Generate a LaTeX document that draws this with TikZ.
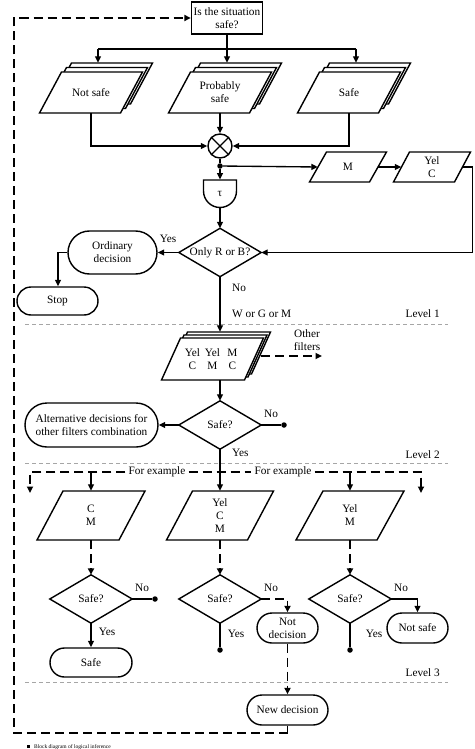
\documentclass[tikz,border=0pt]{standalone}
\usepackage{fontspec}
\setmainfont{Liberation Serif}
\usetikzlibrary{arrows.meta,shapes.misc,shapes.geometric}
\newcommand\pshape[5]{%
 \draw[line width=1.4pt, fill=white] ({#1-#3/2-#5/2},{#2+#4/2}) -- ({#1+#3/2-#5/2},{#2+#4/2}) -- ({#1+#3/2+#5/2},{#2-#4/2}) -- ({#1-#3/2+#5/2},{#2-#4/2}) -- cycle;}
\newcommand\pgr[7]{\pshape{#2}{#3}{#4}{#5}{#6}\node[minimum width=#4pt,minimum height=#5pt] (#1) at (#2,#3) {#7};}
\newcommand\stk[9]{%
 \pshape{#2+2*#7}{#3-2*#8}{#4}{#5}{#6}%
 \node[minimum width=#4pt,minimum height=#5pt] (#1b) at ({#2+2*#7},{#3-2*#8}) {};%
 \pshape{#2+#7}{#3-#8}{#4}{#5}{#6}%
 \pgr{#1}{#2}{#3}{#4}{#5}{#6}{#9}}
\newcommand\dia[4]{\node[minimum width=82pt, minimum height=48pt] (#1) at (#2,#3) {#4};
 \draw[line width=1.4pt] (#1.north) -- (#1.east) -- (#1.south) -- (#1.west) -- cycle;}
\begin{document}
\begin{tikzpicture}[x=1pt,y=-1pt,
  every node/.style={font=\fontsize{11.3}{13}\selectfont, inner sep=0pt, align=center},
  ln/.style={line width=1.35pt},
  arr/.style={ln,-{Triangle[length=6.5pt,width=6pt]}},
  dsh/.style={line width=1.6pt, dash pattern=on 9pt off 5pt},
  darr/.style={dsh,-{Triangle[length=6.5pt,width=6pt]}},
  lvl/.style={gray!70, line width=0.8pt, dash pattern=on 4pt off 3pt},
  stad/.style={draw, line width=1.4pt, rounded rectangle},
  dot/.style={circle, fill, minimum size=5.5pt}]
\useasboundingbox (0,0) rectangle (474,749);

% top box
\node[draw, line width=1.4pt, minimum width=71pt, minimum height=32pt] (q) at (227,18) {Is the situation\\safe?};

% stacks
\stk{ns}{91}{92.5}{81}{41}{22}{5}{4.5}{Not safe}
\stk{ps}{220}{92.5}{81}{41}{22}{5}{4.5}{Probably\\safe}
\stk{sf}{349}{92.5}{81}{41}{22}{5}{4.5}{Safe}

\coordinate (h1) at (98,49);
\coordinate (h3) at (356,49);
\draw[ln] (q.south) -- (q.south |- h1);
\draw[ln] (h1) -- (h3);
\draw[arr] (h1) -- (h1 |- nsb.north);
\draw[arr] (q.south |- h1) -- (q.south |- psb.north);
\draw[arr] (h3) -- (h3 |- sfb.north);

% multiplier
\node[circle, draw, line width=1.4pt, minimum size=24pt] (mx) at (220,146) {};
\draw[ln] (mx.north west) -- (mx.south east) (mx.north east) -- (mx.south west);
\draw[arr] (ns.south) |- (mx.west);
\draw[arr] (ps.south) -- (mx.north);
\draw[arr] (sf.south) |- (mx.east);

\node[dot] (d1) at (220,166) {};
\draw[ln] (mx.south) -- (d1);

% tau
\draw[line width=1.4pt] (203.5,180) -- (236.5,180) -- (236.5,191) .. controls (236.5,200.1) and (229.1,207.5) .. (220,207.5) .. controls (210.9,207.5) and (203.5,200.1) .. (203.5,191) -- cycle;
\node[minimum width=33pt, minimum height=27.5pt] (tau) at (220,193.5) {τ};
\draw[arr] (d1) -- (tau.north);

% M and Yel C
\pgr{m}{348}{167}{60}{30}{17}{M}
\pgr{yc}{432}{167}{61}{30}{16}{Yel\\C}
\draw[arr] (d1) -- (m.west);
\draw[arr] (m.east) -- (yc.west);

% Only R or B
\dia{only}{220}{252.5}{Only R or B?}
\coordinate (rc) at (472.8,167);
\draw[arr] (yc.east) -- (rc) |- (only.east);
\draw[arr] (tau.south) -- (only.north);

\node[stad, minimum width=89pt, minimum height=43pt] (ord) at (112.5,252.5) {Ordinary\\decision};
\draw[arr] (only.west) -- (ord.east);
\node at (168,239) {Yes};
\node[stad, minimum width=81pt, minimum height=28pt] (stop) at (57.5,301) {Stop};
\coordinate (oc) at (58,252.5);
\draw[arr] (ord.west) -- (oc) -- (oc |- stop.north);

\node[anchor=west] at (232,288) {No};
\node[anchor=west] at (232,314) {W or G or M};
\draw[lvl] (25,324) -- (448,324);
\node[anchor=east] at (440,314) {Level 1};

% filters stack
\stk{yy}{212.5}{359}{83}{42}{19}{3.5}{3}{\makebox[20pt]{Yel}\makebox[20pt]{Yel}\makebox[20pt]{M}\\\makebox[20pt]{C}\makebox[20pt]{M}\makebox[20pt]{C}}
\draw[arr] (only.south) -- (only.south |- yyb.north);
\coordinate (of) at (322,356);
\draw[darr] ([yshift=-3pt]yyb.east) -- (of);
\node at (307,340.5) {Other\\filters};

% Safe? level 2
\dia{s1}{220}{425}{Safe?}
\draw[arr] (s1.north |- yy.south) -- (s1.north);
\node[stad, minimum width=133pt, minimum height=44pt] (alt) at (91.5,425) {Alternative decisions for\\other filters combination};
\draw[arr] (s1.west) -- (alt.east);
\node[dot] (d2) at (284,425) {};
\draw[ln] (s1.east) -- (d2);
\node at (271,414) {No};
\node[anchor=west] at (232,453) {Yes};
\draw[lvl] (25,463) -- (448,463);
\node[anchor=east] at (440,455) {Level 2};

% For example line
\node[fill=white, inner xsep=3pt] (ex1) at (157,472) {For example};
\node[fill=white, inner xsep=3pt] (ex2) at (283,472) {For example};
\coordinate (fl) at (30,472);
\coordinate (fr) at (421,472);
\coordinate (fld) at (30,493);
\coordinate (frd) at (421,493);
\draw[darr] (ex1.west) -- (fl) -- (fld);
\draw[dsh] (ex1.east) -- (ex2.west);
\draw[darr] (ex2.east) -- (fr) -- (frd);

% row 3
\pgr{cm}{91}{515.5}{82}{49}{26}{C\\M}
\pgr{ycm}{220}{515.5}{81}{49}{26}{Yel\\C\\M}
\pgr{ym}{350}{515.5}{81}{49}{27}{Yel\\M}
\draw[arr] (s1.south) -- (ycm.north);
\draw[arr] (cm.north |- fl) -- (cm.north);
\draw[arr] (ym.north |- fl) -- (ym.north);

\dia{t1}{91}{599}{Safe?}
\dia{t2}{220}{599}{Safe?}
\dia{t3}{350}{599}{Safe?}
\draw[darr] (cm.south) -- (t1.north);
\draw[darr] (ycm.south) -- (t2.north);
\draw[darr] (ym.south) -- (t3.north);

\node[dot] (d3) at (155,599) {};
\draw[ln] (t1.east) -- (d3);
\node at (142,588) {No};
\node[stad, minimum width=82pt, minimum height=29pt] (safe) at (91,662.5) {Safe};
\draw[arr] (t1.south) -- (safe.north);
\node at (107,632) {Yes};

\node[stad, minimum width=61pt, minimum height=30pt] (nd) at (287.5,628) {Not\\decision};
\draw[darr] (t2.east) -| (nd.north);
\node at (271,588) {No};
\node[dot] (d4) at (220,650) {};
\draw[ln] (t2.south) -- (d4);
\node at (236,634) {Yes};

\node[stad, minimum width=61pt, minimum height=30pt] (ns2) at (417.5,628) {Not safe};
\draw[arr] (t3.east) -| (ns2.north);
\node at (401,588) {No};
\node[dot] (d5) at (350,650) {};
\draw[ln] (t3.south) -- (d5);
\node at (374,634) {Yes};

\draw[lvl] (25,682) -- (448,682);
\node[anchor=east] at (440,673) {Level 3};

\node[stad, minimum width=81pt, minimum height=30pt] (new) at (287.5,710) {New decision};
\draw[darr] (nd.south) -- (new.north);

\coordinate (b1) at (287.5,733);
\coordinate (b2) at (14,733);
\coordinate (b3) at (14,18);
\draw[ln] (new.south) -- (b1);
\draw[darr] (b1) -- (b2) -- (b3) -- (q.west);

% caption (tiny, at bottom edge)
\fill (27,744.5) rectangle (30,747.5);
\node[anchor=base west, font=\fontsize{5.5}{6}\selectfont] at (34,748) {Block diagram of logical inference};
\end{tikzpicture}
\end{document}
